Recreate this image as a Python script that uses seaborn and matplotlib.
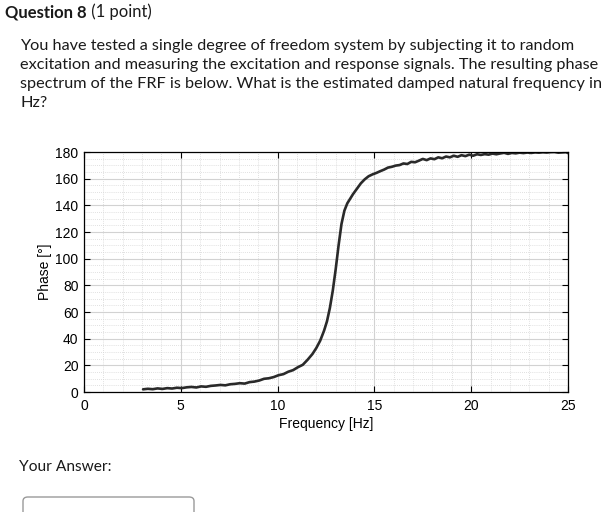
import matplotlib
matplotlib.use("Agg")
import numpy as np
import pandas as pd
import seaborn as sns
import matplotlib.pyplot as plt
from matplotlib.patches import FancyBboxPatch
from matplotlib.ticker import MultipleLocator

# ---- data ----
freq_hz = [3.05, 3.3, 3.55, 3.8, 4.05, 4.3, 4.55, 4.8, 5.05, 5.3, 5.55, 5.8,
           6.05, 6.3, 6.55, 6.8, 7.05, 7.3, 7.55, 7.8, 8.05, 8.3, 8.55, 8.8,
           9.05, 9.3, 9.55, 9.8, 10.05, 10.3, 10.55, 10.8, 11.05, 11.3, 11.55,
           11.8, 12.0, 12.2, 12.4, 12.55, 12.7, 12.85, 13.0, 13.15, 13.3, 13.45,
           13.6, 13.75, 13.9, 14.1, 14.3, 14.5, 14.7, 14.9, 15.1, 15.3, 15.5,
           15.7, 15.9, 16.1, 16.3, 16.5, 16.7, 16.9, 17.1, 17.3, 17.5, 17.7,
           17.9, 18.1, 18.3, 18.5, 18.7, 18.9, 19.1, 19.3, 19.5, 19.7, 19.9,
           20.1, 20.3, 20.5, 20.7, 20.9, 21.1, 21.3, 21.5, 21.7, 21.9, 22.1,
           22.3, 22.5, 22.7, 22.9, 23.1, 23.3, 23.5, 23.7, 23.9, 24.1, 24.3,
           24.5, 24.7, 24.9, 25.0]
phase_deg = [2.0, 2.4, 2.1, 2.7, 2.3, 2.9, 2.6, 3.2, 2.9, 3.5, 3.8, 3.4,
             4.2, 3.9, 4.6, 4.9, 5.3, 5.0, 5.8, 6.1, 6.6, 6.3, 7.4, 7.8,
             8.6, 9.9, 10.3, 11.2, 12.6, 13.4, 15.2, 16.4, 18.6, 20.4, 24.2,
             28.5, 33.0, 38.5, 46.0, 53.0, 63.0, 76.0, 92.0, 110.0, 126.0, 136.0,
             141.5, 145.0, 148.5, 152.5, 156.5, 159.5, 161.8, 163.2, 164.3, 165.6, 166.8,
             168.3, 168.9, 169.8, 170.2, 171.4, 171.0, 172.6, 172.3, 173.5, 174.8, 173.9,
             175.2, 174.6, 176.0, 175.3, 176.6, 176.0, 177.2, 176.4, 177.6, 176.9, 178.0,
             177.2, 178.3, 177.8, 178.4, 178.0, 178.8, 178.3, 178.9, 179.4, 178.6, 179.3,
             179.0, 179.5, 179.2, 179.6, 179.3, 179.7, 179.5, 179.8, 179.6, 179.9, 180.0,
             179.5, 179.7, 179.9, 179.2]
x_ticks = [0, 5, 10, 15, 20, 25]
y_ticks = [0, 20, 40, 60, 80, 100, 120, 140, 160, 180]

title_bold = "Question 8"
title_rest = " (1 point)"
body_lines = [
    "You have tested a single degree of freedom system by subjecting it to random",
    "excitation and measuring the excitation and response signals. The resulting phase",
    "spectrum of the FRF is below. What is the estimated damped natural frequency in",
    "Hz?",
]
answer_label = "Your Answer:"

# ---- figure ----
sns.set_theme(style="white")
plt.rcParams['font.family'] = ['Liberation Sans', 'DejaVu Sans']

W, H = 608, 512
fig = plt.figure(figsize=(W / 100, H / 100), dpi=100)
fig.patch.set_facecolor("white")

def fx(px):
    return px / W

def fy(py):
    return 1 - py / H

ax = fig.add_axes([fx(84), fy(392), (568 - 84) / W, (392 - 152) / H])
df = pd.DataFrame({"Frequency": freq_hz, "Phase": phase_deg})
sns.lineplot(data=df, x="Frequency", y="Phase", ax=ax, color="#2a2a2a",
             linewidth=1.9, sort=False)

ax.set_xlim(0, 25)
ax.set_ylim(0, 180)
ax.set_xticks(x_ticks)
ax.set_yticks(y_ticks)
ax.xaxis.set_minor_locator(MultipleLocator(1))
ax.yaxis.set_minor_locator(MultipleLocator(5))
ax.grid(which="major", color="#d2d2d2", linewidth=0.8, linestyle="-")
ax.grid(which="minor", color="#d6d6d6", linewidth=0.6, linestyle=(0, (1, 1.5)))
ax.set_axisbelow(True)
ax.tick_params(which="major", direction="in", length=4, width=0.8,
               top=True, right=True, bottom=True, left=True,
               labelsize=10, colors="black", pad=4)
ax.tick_params(axis="x", which="major", pad=5)
ax.tick_params(which="minor", length=0)
for s in ax.spines.values():
    s.set_visible(True)
    s.set_color("black")
    s.set_linewidth(0.9)
ax.set_xlabel("Frequency [Hz]", fontsize=10, color="black", labelpad=3)
ax.set_ylabel("Phase [°]", fontsize=10, color="black", labelpad=2)

# ---- question text ----
lato = ['Lato', 'DejaVu Sans']
t1 = fig.text(fx(5), fy(12), title_bold, family=lato, fontweight="bold",
              fontsize=12.0, va="center", ha="left", color="#1a1a1a")
fig.canvas.draw()
bb = t1.get_window_extent()
fig.text(bb.x1 / W, fy(12), title_rest, family=lato, fontsize=12.0,
         va="center", ha="left", color="#1a1a1a")

for i, line in enumerate(body_lines):
    fig.text(fx(20), fy(46 + 19 * i), line, family=lato, fontsize=11.7,
             va="center", ha="left", color="#1a1a1a")

fig.text(fx(19), fy(467), answer_label, family=lato, fontsize=11.2,
         va="center", ha="left", color="#1a1a1a")

box = FancyBboxPatch((fx(23), fy(530)), (194 - 23) / W, (530 - 497) / H,
                     boxstyle="round,pad=0,rounding_size=0.008",
                     transform=fig.transFigure, facecolor="white",
                     edgecolor="#9a9a9a", linewidth=1.0)
fig.patches.append(box)

fig.savefig("out.png", dpi=100, facecolor="white")
